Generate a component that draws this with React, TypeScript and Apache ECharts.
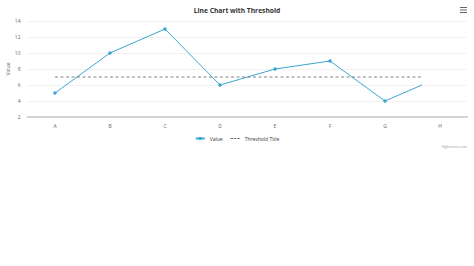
import React, { useEffect, useRef } from "react";
import * as echarts from "echarts";

const categories = ["A", "B", "C", "D", "E", "F", "G", "H"];
// x positions (category index) and values of the "Value" series
const valueX = [0, 1, 2, 3, 4, 5, 6, 6.67];
const valueY = [5, 10, 13, 6, 8, 9, 4, 6];
const thresholdX = [0, 6.67];
const thresholdY = [7, 7];
const yTicks = [2, 4, 6, 8, 10, 12, 14];

const FONT = "'Open Sans', 'DejaVu Sans', sans-serif";
const LINE_COLOR = "#3ea6d2";
const DASH_ICON =
  "path://M0,0h0.01v0.01h-0.01z M0,1.6h2.6v0.8h-2.6z M3.6,1.6h2v0.8h-2z M6.6,1.6h2.4v0.8h-2.4z M9,4h-0.01v-0.01h0.01z";

export default function App() {
  const ref = useRef<HTMLDivElement>(null);
  useEffect(() => {
    if (!ref.current) return;
    const chart = echarts.init(ref.current, null, { renderer: "svg" });
    const lastIdx = valueX.length - 1;
    chart.setOption({
      animation: false,
      backgroundColor: "#ffffff",
      textStyle: { fontFamily: FONT },
      title: {
        text: "Line Chart with Threshold",
        left: "center",
        top: 7,
        padding: 0,
        textStyle: { fontSize: 6.7, fontWeight: "bold", color: "#333333", fontFamily: FONT },
      },
      legend: {
        top: 136,
        left: "center",
        padding: 0,
        itemWidth: 9,
        itemHeight: 4,
        itemGap: 8,
        textStyle: { fontSize: 5, color: "#333333", fontFamily: FONT },
        data: [
          { name: "Value" },
          { name: "Threshold Title", icon: DASH_ICON, itemStyle: { color: "#666666" } },
        ],
      },
      grid: { left: 27.5, right: 6.5, top: 21, bottom: 149, containLabel: false, outerBoundsMode: "none" },
      xAxis: [
        {
          type: "category",
          data: categories,
          boundaryGap: true,
          axisLine: { lineStyle: { color: "#c8c8c8", width: 1.5 } },
          axisTick: { show: false },
          axisLabel: { fontSize: 5, color: "#666666", margin: 6, fontFamily: FONT },
          splitLine: { show: false },
        },
        {
          type: "value",
          min: -0.5,
          max: 7.5,
          show: false,
        },
      ],
      yAxis: {
        type: "value",
        min: yTicks[0],
        max: yTicks[yTicks.length - 1],
        interval: 2,
        name: "Value",
        nameLocation: "middle",
        nameGap: 17,
        nameMoveOverlap: false,
        nameTextStyle: { fontSize: 5, color: "#666666", fontFamily: FONT },
        axisLine: { show: false },
        axisTick: { show: false },
        axisLabel: { fontSize: 5, color: "#666666", margin: 7, fontFamily: FONT },
        splitLine: { lineStyle: { color: "#ebebeb", width: 0.7 } },
      },
      series: [
        {
          name: "Value",
          type: "line",
          xAxisIndex: 1,
          data: valueX.map((x, i) =>
            i === lastIdx
              ? { value: [x, valueY[i]], symbol: "none" }
              : { value: [x, valueY[i]] }
          ),
          symbol: "circle",
          symbolSize: 3.5,
          color: LINE_COLOR,
          lineStyle: { color: LINE_COLOR, width: 1 },
          itemStyle: { color: LINE_COLOR },
        },
        {
          name: "Threshold Title",
          type: "line",
          xAxisIndex: 1,
          data: thresholdX.map((x, i) => [x, thresholdY[i]]),
          symbol: "none",
          color: "#666666",
          lineStyle: { color: "#666666", width: 0.8, type: [3, 2.5] },
        },
      ],
      graphic: [
        {
          type: "group",
          right: 7,
          top: 7,
          children: [
            { type: "rect", shape: { x: 0, y: 0, width: 7, height: 1 }, style: { fill: "#666666" } },
            { type: "rect", shape: { x: 0, y: 2.5, width: 7, height: 1 }, style: { fill: "#666666" } },
            { type: "rect", shape: { x: 0, y: 5, width: 7, height: 1 }, style: { fill: "#666666" } },
          ],
        },
        {
          type: "text",
          right: 7,
          top: 144,
          style: { text: "Highcharts.com", fontSize: 3.5, fill: "#999999", fontFamily: FONT },
        },
      ],
    });
    return () => chart.dispose();
  }, []);
  return <div ref={ref} style={{ width: 474, height: 266, position: "absolute", left: 0, top: 0 }} />;
}
